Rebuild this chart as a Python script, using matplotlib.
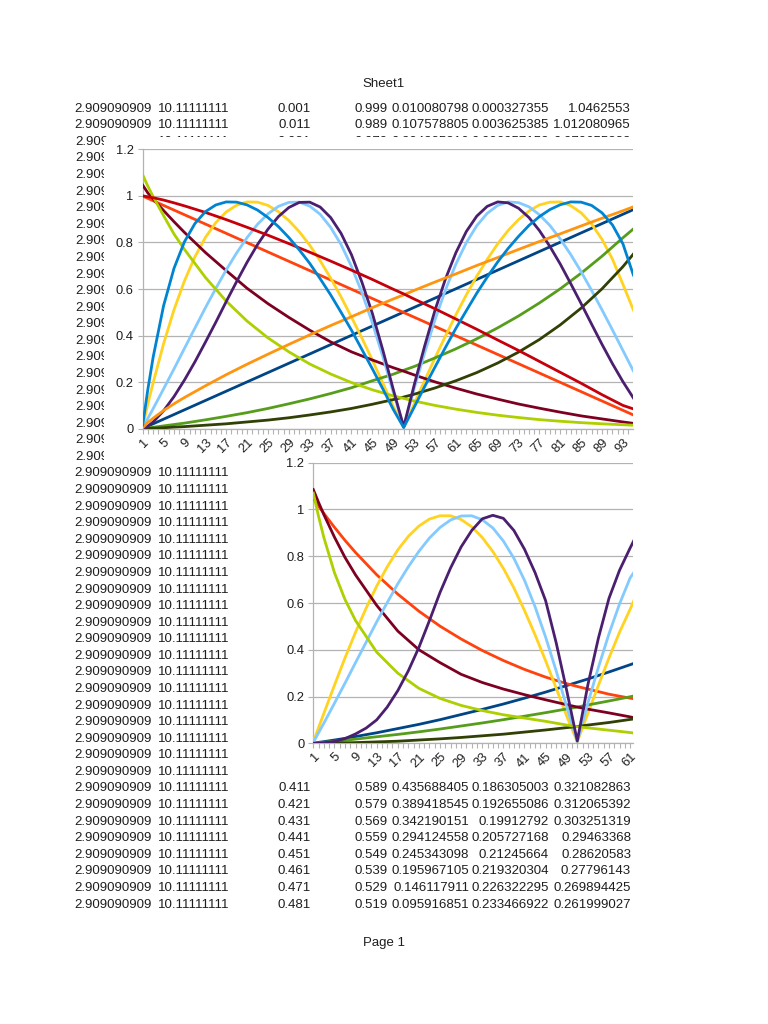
import matplotlib
matplotlib.use('Agg')
import matplotlib.pyplot as plt
from matplotlib.ticker import FixedLocator, NullFormatter

plt.rcParams['font.family'] = ['Liberation Sans', 'DejaVu Sans']

W, H = 768, 1024

# colours of the spreadsheet's default chart palette
DARK_BLUE = '#004586'
ORANGE_RED = '#ff420e'
YELLOW = '#ffd320'
GREEN = '#579d1c'
MAROON = '#7e0021'
LIGHT_BLUE = '#83caff'
OLIVE = '#314004'
YELLOW_GREEN = '#aecf00'
PURPLE = '#4b1f6f'
ORANGE = '#ff950e'
RED = '#c5000b'
BLUE = '#0084d1'
GRID = '#b3b3b3'

# ---- top chart: values read at these category numbers
top_x = [1, 2, 3, 5, 7, 9, 13, 17, 21, 25, 29, 33, 37, 41, 45, 49, 51, 53,
         57, 61, 65, 69, 73, 77, 81, 85, 89, 93, 95]
top_dark_blue = [0.001, 0.011, 0.021, 0.041, 0.061, 0.081, 0.121, 0.161, 0.201, 0.241,
                 0.281, 0.321, 0.361, 0.401, 0.441, 0.481, 0.501, 0.521, 0.561, 0.601,
                 0.641, 0.681, 0.721, 0.761, 0.801, 0.841, 0.881, 0.921, 0.941]
top_orange_red = [0.999, 0.989, 0.979, 0.959, 0.939, 0.919, 0.879, 0.839, 0.799, 0.759,
                  0.719, 0.679, 0.639, 0.599, 0.559, 0.519, 0.499, 0.479, 0.439, 0.399,
                  0.359, 0.319, 0.279, 0.239, 0.199, 0.159, 0.119, 0.079, 0.059]
top_green = [0.000, 0.004, 0.006, 0.012, 0.018, 0.024, 0.038, 0.053, 0.069, 0.087,
             0.107, 0.128, 0.151, 0.176, 0.206, 0.234, 0.251, 0.267, 0.304, 0.343,
             0.386, 0.433, 0.484, 0.540, 0.601, 0.668, 0.741, 0.820, 0.858]
top_maroon = [1.046, 1.012, 0.987, 0.937, 0.889, 0.843, 0.757, 0.679, 0.603, 0.537,
              0.478, 0.423, 0.373, 0.330, 0.295, 0.262, 0.247, 0.231, 0.201, 0.174,
              0.149, 0.127, 0.106, 0.088, 0.071, 0.055, 0.042, 0.029, 0.023]
top_olive = [0.000, 0.001, 0.002, 0.004, 0.007, 0.009, 0.015, 0.021, 0.029, 0.037,
             0.047, 0.059, 0.072, 0.087, 0.105, 0.125, 0.136, 0.148, 0.175, 0.206,
             0.241, 0.282, 0.329, 0.383, 0.446, 0.518, 0.601, 0.696, 0.750]
top_yellow_green = [1.090, 1.041, 0.997, 0.915, 0.836, 0.770, 0.650, 0.548, 0.462, 0.390,
                    0.330, 0.278, 0.235, 0.198, 0.167, 0.141, 0.130, 0.119, 0.100, 0.084,
                    0.070, 0.058, 0.048, 0.039, 0.032, 0.026, 0.021, 0.017, 0.015]
top_orange = [0.004, 0.027, 0.045, 0.078, 0.107, 0.134, 0.184, 0.232, 0.277, 0.320,
              0.362, 0.403, 0.443, 0.481, 0.520, 0.557, 0.575, 0.594, 0.630, 0.665,
              0.701, 0.735, 0.770, 0.804, 0.837, 0.871, 0.904, 0.936, 0.953]
top_red = [1.000, 0.996, 0.992, 0.982, 0.970, 0.957, 0.929, 0.898, 0.865, 0.831,
           0.795, 0.758, 0.720, 0.681, 0.641, 0.599, 0.579, 0.557, 0.515, 0.471,
           0.427, 0.381, 0.336, 0.289, 0.242, 0.195, 0.146, 0.100, 0.085]

# the four arches are read more densely
top_x_fine = [1, 2, 3, 5, 7, 9, 11, 13, 15, 17, 19, 21, 23, 25, 27, 29, 31, 33, 35, 37,
              39, 41, 43, 45, 47, 49, 51, 53, 55, 57, 59, 61, 63, 65, 67, 69, 71, 73,
              75, 77, 79, 81, 83, 85, 87, 89, 91, 93, 95]
top_yellow = [0.010, 0.108, 0.197, 0.365, 0.511, 0.635, 0.738, 0.821, 0.885, 0.931,
              0.960, 0.974, 0.973, 0.959, 0.932, 0.894, 0.846, 0.788, 0.721, 0.647,
              0.566, 0.479, 0.389, 0.294, 0.196, 0.096, 0.007, 0.106, 0.206, 0.304,
              0.398, 0.489, 0.575, 0.655, 0.727, 0.794, 0.851, 0.898, 0.935, 0.961,
              0.973, 0.974, 0.958, 0.927, 0.879, 0.813, 0.728, 0.620, 0.510]
top_blue = [0.016, 0.171, 0.307, 0.528, 0.689, 0.803, 0.881, 0.932, 0.961, 0.974,
            0.973, 0.961, 0.939, 0.907, 0.868, 0.821, 0.768, 0.710, 0.644, 0.575,
            0.500, 0.423, 0.340, 0.257, 0.171, 0.083, 0.005, 0.092, 0.180, 0.265,
            0.349, 0.431, 0.507, 0.582, 0.651, 0.716, 0.774, 0.826, 0.873, 0.911,
            0.941, 0.962, 0.974, 0.973, 0.959, 0.927, 0.875, 0.794, 0.660]
top_light_blue = [0.004, 0.045, 0.086, 0.171, 0.257, 0.345, 0.432, 0.519, 0.602, 0.682,
                  0.755, 0.821, 0.878, 0.923, 0.955, 0.972, 0.973, 0.956, 0.921, 0.865,
                  0.791, 0.697, 0.584, 0.454, 0.310, 0.156, 0.007, 0.172, 0.325, 0.468,
                  0.596, 0.707, 0.799, 0.872, 0.925, 0.959, 0.974, 0.971, 0.953, 0.919,
                  0.873, 0.815, 0.748, 0.674, 0.594, 0.510, 0.424, 0.336, 0.248]
top_purple = [0.000, 0.011, 0.029, 0.077, 0.138, 0.209, 0.287, 0.371, 0.457, 0.546,
              0.632, 0.715, 0.791, 0.857, 0.911, 0.950, 0.972, 0.973, 0.952, 0.907,
              0.839, 0.747, 0.629, 0.495, 0.338, 0.169, 0.008, 0.187, 0.354, 0.509,
              0.643, 0.756, 0.847, 0.913, 0.955, 0.974, 0.970, 0.947, 0.907, 0.851,
              0.783, 0.707, 0.623, 0.537, 0.449, 0.362, 0.279, 0.202, 0.132]

# ---- bottom chart
bot_x = [1, 2, 3, 5, 7, 9, 13, 17, 21, 25, 29, 33, 37, 41, 45, 49, 51, 53, 57, 61, 62]
bot_dark_blue = [0.000, 0.004, 0.007, 0.014, 0.021, 0.029, 0.045, 0.063, 0.081, 0.101, 0.123,
                 0.145, 0.168, 0.193, 0.219, 0.247, 0.261, 0.275, 0.305, 0.336, 0.344]
bot_orange_red = [1.047, 1.014, 0.983, 0.924, 0.868, 0.816, 0.721, 0.638, 0.565, 0.501, 0.446,
                  0.397, 0.354, 0.316, 0.283, 0.255, 0.243, 0.232, 0.210, 0.193, 0.190]
bot_green = [0.000, 0.002, 0.004, 0.009, 0.013, 0.018, 0.028, 0.038, 0.049, 0.061, 0.074,
             0.087, 0.101, 0.116, 0.131, 0.147, 0.155, 0.164, 0.181, 0.199, 0.204]
bot_maroon = [1.085, 1.030, 0.978, 0.882, 0.795, 0.720, 0.590, 0.480, 0.400, 0.345, 0.295,
              0.260, 0.232, 0.208, 0.186, 0.165, 0.155, 0.146, 0.130, 0.113, 0.108]
bot_olive = [0.000, 0.000, 0.001, 0.001, 0.002, 0.003, 0.006, 0.009, 0.014, 0.019, 0.025,
             0.032, 0.039, 0.048, 0.057, 0.067, 0.072, 0.078, 0.089, 0.102, 0.105]
bot_yellow_green = [1.070, 0.970, 0.880, 0.730, 0.615, 0.525, 0.390, 0.300, 0.235, 0.192, 0.162,
                    0.140, 0.122, 0.108, 0.094, 0.078, 0.071, 0.066, 0.056, 0.046, 0.043]

bot_x_fine = [1, 2, 3, 5, 7, 9, 11, 13, 15, 17, 19, 21, 23, 25, 27, 29, 31, 33, 35, 37,
              39, 41, 43, 45, 47, 49, 51, 53, 55, 57, 59, 61, 62]
bot_yellow = [0.006, 0.067, 0.128, 0.248, 0.365, 0.475, 0.578, 0.672, 0.755, 0.827,
              0.885, 0.929, 0.959, 0.973, 0.973, 0.957, 0.926, 0.880, 0.820, 0.748,
              0.664, 0.568, 0.464, 0.353, 0.236, 0.116, 0.006, 0.128, 0.248, 0.365,
              0.475, 0.573, 0.625]
bot_light_blue = [0.004, 0.045, 0.086, 0.171, 0.257, 0.345, 0.432, 0.519, 0.602, 0.682,
                  0.755, 0.821, 0.878, 0.923, 0.955, 0.972, 0.973, 0.956, 0.921, 0.865,
                  0.791, 0.697, 0.584, 0.454, 0.310, 0.156, 0.007, 0.172, 0.325, 0.468,
                  0.596, 0.707, 0.740]
bot_purple = [0.000, 0.000, 0.002, 0.008, 0.020, 0.040, 0.065, 0.100, 0.155, 0.225,
              0.310, 0.410, 0.525, 0.645, 0.750, 0.840, 0.910, 0.960, 0.975, 0.962,
              0.910, 0.830, 0.730, 0.610, 0.430, 0.225, 0.010, 0.250, 0.450, 0.620,
              0.740, 0.835, 0.880]

# ---- sheet cells
col_a = '2.909090909'
col_a_cut = '2.909'          # what shows left of the top chart
col_b = '10.11111111'
top_rows = [
    ['0.001', '0.999', '0.010080798', '0.000327355', '1.0462553'],
    ['0.011', '0.989', '0.107578805', '0.003625385', '1.012080965'],
    ['0.021', '0.979', '0.204325316', '0.006957152', '0.979655233'],
]
bottom_rows = [
    ['0.411', '0.589', '0.435688405', '0.186305003', '0.321082863'],
    ['0.421', '0.579', '0.389418545', '0.192655086', '0.312065392'],
    ['0.431', '0.569', '0.342190151', '0.19912792', '0.303251319'],
    ['0.441', '0.559', '0.294124558', '0.205727168', '0.29463368'],
    ['0.451', '0.549', '0.245343098', '0.21245664', '0.28620583'],
    ['0.461', '0.539', '0.195967105', '0.219320304', '0.27796143'],
    ['0.471', '0.529', '0.146117911', '0.226322295', '0.269894425'],
    ['0.481', '0.519', '0.095916851', '0.233466922', '0.261999027'],
]
y_labels = ['0', '0.2', '0.4', '0.6', '0.8', '1', '1.2']

COL_RIGHT = [152, 229, 311, 388, 469, 549, 631]
CELL_SIZE = 9.5
TEXT_COL = '#1e1e1e'


def row_y(k):
    return 107 + 16.58 * (k - 1)


def rect(x0, y0, x1, y1):
    return [x0 / W, 1 - y1 / H, (x1 - x0) / W, (y1 - y0) / H]


def cell(ax, x, y, s, ha='right'):
    # baseline placed so the digits are centred on y
    ax.text(x, y + 4.7, s, ha=ha, va='baseline', fontsize=CELL_SIZE, color=TEXT_COL)


def style_chart(ax, n_max, x_right):
    ax.set_ylim(0, 1.2)
    ax.set_xlim(1, x_right)
    ax.set_facecolor('white')
    for side in ('top', 'right'):
        ax.spines[side].set_visible(False)
    for side in ('left', 'bottom'):
        ax.spines[side].set_color(GRID)
        ax.spines[side].set_linewidth(0.9)
    ax.set_yticks([0, 0.2, 0.4, 0.6, 0.8, 1.0, 1.2])
    ax.set_yticklabels(y_labels)
    ax.yaxis.grid(True, color=GRID, lw=0.9)
    ax.set_axisbelow(True)
    ax.xaxis.set_major_locator(FixedLocator(list(range(1, n_max + 1, 4))))
    ax.xaxis.set_minor_locator(FixedLocator(list(range(1, n_max + 1))))
    ax.xaxis.set_minor_formatter(NullFormatter())
    ax.set_xticklabels([str(v) for v in range(1, n_max + 1, 4)],
                       rotation=45, ha='right', va='top', rotation_mode='anchor')
    ax.tick_params(axis='both', which='both', direction='out', length=3.5, width=0.8,
                   color=GRID, labelsize=9.3, labelcolor=TEXT_COL)
    ax.tick_params(axis='x', which='major', pad=2)
    ax.tick_params(axis='y', pad=3)


fig = plt.figure(figsize=(W / 100, H / 100), dpi=100)
fig.patch.set_facecolor('white')

page = fig.add_axes([0, 0, 1, 1])
page.set_xlim(0, W)
page.set_ylim(H, 0)
page.axis('off')

cell(page, 384, 82, 'Sheet1', ha='center')
cell(page, 384, 941, 'Page 1', ha='center')

for k in range(1, 50):
    if k <= 2:
        cells = [col_a, col_b] + top_rows[k - 1]
    elif k == 3:
        cells = [col_a_cut, col_b] + top_rows[2]
    elif k <= 22:
        cells = [col_a_cut]
    elif k < 42:
        cells = [col_a, col_b]
    else:
        cells = [col_a, col_b] + bottom_rows[k - 42]
    for text, xr in zip(cells, COL_RIGHT):
        if text == col_a_cut:
            cell(page, 75, row_y(k), text, ha='left')
        else:
            cell(page, xr, row_y(k), text)

# top chart: white chart object over the cells, then its plot area
box1 = fig.add_axes(rect(104, 137, 633, 463))
box1.axis('off')
box1.add_patch(plt.Rectangle((0, 0), 1, 1, transform=box1.transAxes,
                             facecolor='white', edgecolor='none'))

ax1 = fig.add_axes(rect(142.7, 149.3, 633, 428.7))
style_chart(ax1, 95, 94.93)
top_series = [
    (top_x, top_dark_blue, DARK_BLUE), (top_x, top_orange_red, ORANGE_RED),
    (top_x_fine, top_yellow, YELLOW), (top_x, top_green, GREEN),
    (top_x, top_maroon, MAROON), (top_x_fine, top_light_blue, LIGHT_BLUE),
    (top_x, top_olive, OLIVE), (top_x, top_yellow_green, YELLOW_GREEN),
    (top_x_fine, top_purple, PURPLE), (top_x, top_orange, ORANGE),
    (top_x, top_red, RED), (top_x_fine, top_blue, BLUE),
]
for i, (xs, vals, col) in enumerate(top_series):
    ax1.plot(xs, vals, color=col, lw=2.0, solid_joinstyle='round', zorder=3 + i * 0.1)

# bottom chart
box2 = fig.add_axes(rect(240, 456, 633, 779))
box2.axis('off')
box2.add_patch(plt.Rectangle((0, 0), 1, 1, transform=box2.transAxes,
                             facecolor='white', edgecolor='none'))

ax2 = fig.add_axes(rect(313.3, 462.7, 633, 743.3))
style_chart(ax2, 62, 61.55)
bot_series = [
    (bot_x, bot_dark_blue, DARK_BLUE), (bot_x, bot_orange_red, ORANGE_RED),
    (bot_x_fine, bot_yellow, YELLOW), (bot_x, bot_green, GREEN),
    (bot_x, bot_maroon, MAROON), (bot_x_fine, bot_light_blue, LIGHT_BLUE),
    (bot_x, bot_olive, OLIVE), (bot_x, bot_yellow_green, YELLOW_GREEN),
    (bot_x_fine, bot_purple, PURPLE),
]
for i, (xs, vals, col) in enumerate(bot_series):
    ax2.plot(xs, vals, color=col, lw=2.0, solid_joinstyle='round', zorder=3 + i * 0.1)

fig.savefig('out.png', dpi=100, facecolor='white')
